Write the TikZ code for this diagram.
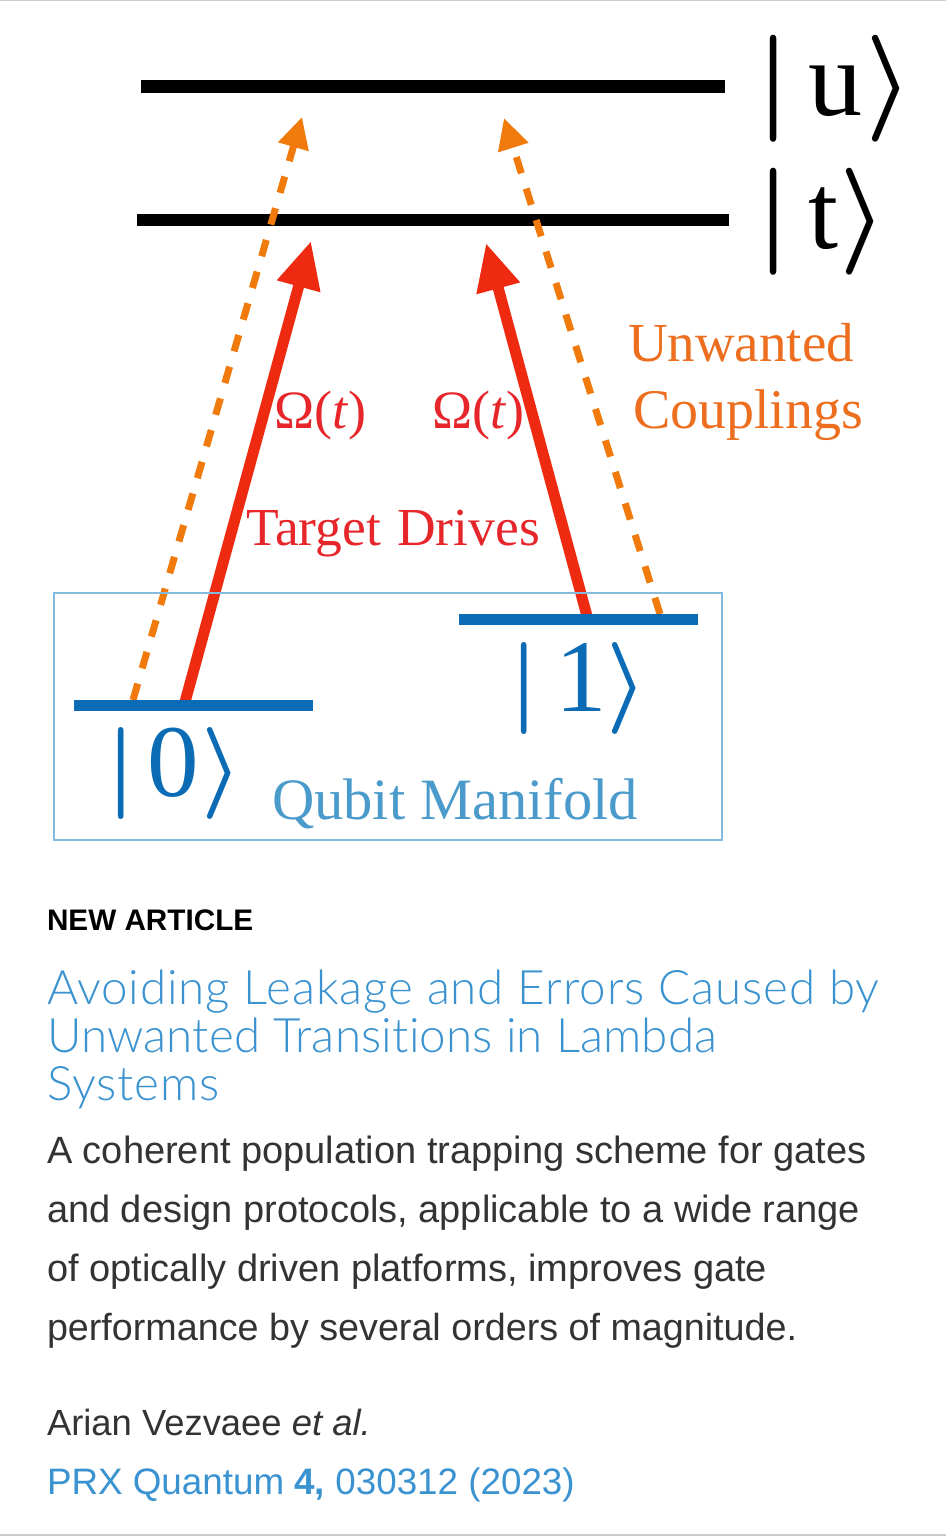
\RequirePackage{fix-cm}
\documentclass[tikz,border=0pt]{standalone}
\usepackage{amsmath,amssymb}
\usepackage{fontspec}
\setmainfont{Liberation Sans}
\newfontfamily\figfont{Liberation Serif}
\newfontfamily\headfont[Ligatures=NoCommon,LetterSpace=0.4]{Lato Light}
\newfontfamily\headwide[Ligatures=NoCommon,LetterSpace=1.9]{Lato Light}
\usetikzlibrary{calc,arrows.meta}
\definecolor{ink}{HTML}{333333}
\definecolor{drive}{HTML}{EE2A10}
\definecolor{drivetext}{HTML}{E6262A}
\definecolor{leak}{HTML}{F07A0C}
\definecolor{leaktext}{HTML}{EC6E1E}
\definecolor{level}{HTML}{0B6CB5}
\definecolor{frame}{HTML}{84BBDD}
\definecolor{manifold}{HTML}{4A9ACB}
\definecolor{linkblue}{HTML}{3A93D0}
\newcommand{\figsize}[1]{\fontsize{#1}{#1}\selectfont}
\tikzset{
  topline/.style={draw=black, line width=13pt},
  qubitline/.style={draw=level, line width=11pt},
  target/.style={draw=drive, line width=11pt, -{Triangle[length=47pt,width=42pt]}},
  unwanted/.style={draw=leak, line width=7pt, dash pattern=on 17pt off 16pt, -{Triangle[length=31pt,width=30pt]}},
  lab/.style={anchor=base west, inner sep=0pt, outer sep=0pt},
  fig/.style={lab, font=\figfont},
  body/.style={lab, text=ink, font=\figsize{38}},
  head/.style={lab, text=linkblue, font=\figsize{47.5}},
}
\begin{document}
\begin{tikzpicture}[x=1pt,y=-1pt]
  \useasboundingbox (0,0) rectangle (946,1536);
  % page edges
  \draw[black!20, line width=1.5pt] (0,0.5) -- (946,0.5) (0,1535) -- (946,1535);

  \coordinate (Ua) at (141,87);   \coordinate (Ub) at (725,87);
  \coordinate (Ta) at (137,220);  \coordinate (Tb) at (729,220);
  \coordinate (Za) at (74,705);   \coordinate (Zb) at (313,705);
  \coordinate (Oa) at (459,619);  \coordinate (Ob) at (698,619);

  \coordinate (ZL) at (133,700);  \coordinate (UL) at (302,117);
  \coordinate (ZT) at (185,702);  \coordinate (TL) at (311,241);
  \coordinate (OT) at (587,616);  \coordinate (TR) at (486,243);
  \coordinate (OL) at (660,614);  \coordinate (UR) at (504,118);

  \draw[topline] (Ua) -- (Ub);
  \draw[topline, line width=12pt] (Ta) -- (Tb);
  \draw[unwanted] (ZL) -- (UL);
  \draw[unwanted] (OL) -- (UR);
  \draw[target] (ZT) -- (TL);
  \draw[target] (OT) -- (TR);
  \draw[qubitline] (Za) -- (Zb);
  \draw[qubitline] (Oa) -- (Ob);
  \draw[draw=frame, line width=1.8pt] (54,593) rectangle (722,840);

  \node[lab, font=\figsize{107}\boldmath] (ketu) at (756,116) {$|$\kern18pt{\figfont\figsize{108}u}\kern3pt$\rangle$};
  \node[lab, font=\figsize{107}\boldmath] (kett) at (756,248) {$|$\kern18pt{\figfont\figsize{108}t}\kern1pt$\rangle$};
  \node[lab, text=level, font=\figsize{92}\boldmath] (ketz) at (106,796) {$|$\kern12.5pt{\figfont\figsize{103}0}\kern2pt$\rangle$};
  \node[lab, text=level, font=\figsize{92}\boldmath] (keto) at (509,711) {$|$\kern17pt{\figfont\figsize{103}1}\kern0pt$\rangle$};

  \node[fig, text=drivetext, font=\figsize{54}\figfont] (omegaa) at (274,428) {Ω(\textit{t})};
  \node[fig, text=drivetext, font=\figsize{54}\figfont] (omegab) at (432,428) {Ω(\textit{t})};
  \node[fig, text=drivetext, font=\figsize{53.5}\figfont] (targetlab) at (246,545) {Target\kern3pt\ Drives};
  \node[fig, text=leaktext, font=\figsize{55}\figfont] (unwantedlab) at (628,361) {Unwanted};
  \node[fig, text=leaktext, font=\figsize{56}\figfont] (couplinglab) at (633,428) {Couplings};
  \node[fig, text=manifold, font=\figsize{58.6}\figfont] (manifoldlab) at (272,819) {Qubit Manifold};

  \node[lab, font=\figsize{29.7}\bfseries] (newart) at (47,930) {NEW ARTICLE};
  \node[head] (heada) at (47,1004) {\headwide Avoiding Leakage and Errors Caused by};
  \node[head] (headb) at (47,1052) {\headfont Unwanted Transitions in Lambda};
  \node[head] (headc) at (47,1100) {\headwide Systems};
  \node[body] (bodya) at (47,1163) {A coherent population trapping scheme for gates};
  \node[body] (bodyb) at (47,1222) {and design protocols, applicable to a wide range};
  \node[body] (bodyc) at (47,1281) {of optically driven platforms, improves gate};
  \node[body, font=\figsize{37.7}] (bodyd) at (47,1340) {performance by several orders of magnitude.};
  \node[body, font=\figsize{36.4}] (authors) at (47,1435) {Arian Vezvaee \textit{et al.}};
  \node[body, text=linkblue, font=\figsize{36.8}] (journal) at (47,1494) {PRX Quantum \textbf{4,} 030312 (2023)};
\end{tikzpicture}
\end{document}
